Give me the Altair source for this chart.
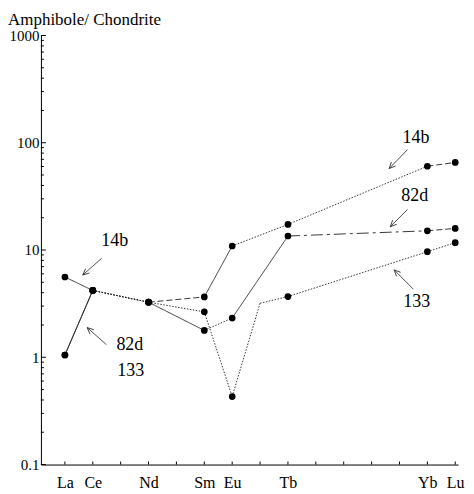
import altair as alt
import pandas as pd

# ---- data ----
element_names = ["La", "Ce", "Nd", "Sm", "Eu", "Gd", "Tb", "Yb", "Lu"]
atomic_numbers = [57, 58, 60, 62, 63, 64, 65, 70, 71]
axis_elements = ["La", "Ce", "Nd", "Sm", "Eu", "Tb", "Yb", "Lu"]
minor_x_ticks = list(range(57, 72))

s14b_el = ["La", "Ce", "Nd", "Sm", "Eu", "Tb", "Yb", "Lu"]
s14b_val = [5.6, 4.2, 3.26, 3.65, 10.9, 17.3, 60.4, 65.5]
s14b_style = ["solid", "dotted", "dashed", "solid", "dotted", "dotted", "dashed"]

s82d_el = ["La", "Ce", "Nd", "Sm", "Eu", "Tb", "Yb", "Lu"]
s82d_val = [1.05, 4.2, 3.26, 1.78, 2.32, 13.5, 15.1, 15.9]
s82d_style = ["solid", "dotted", "solid", "dotted", "solid", "dashdot", "dashed"]

s133_el = ["La", "Ce", "Nd", "Sm", "Eu", "Gd", "Tb", "Yb", "Lu"]
s133_val = [1.05, 4.2, 3.26, 2.65, 0.43, 3.19, 3.68, 9.64, 11.7]
s133_style = ["solid", "dotted", "dotted", "dotted", "dotted", "dotted", "dotted", "dotted"]
s133_marker = [True, True, True, True, True, False, True, True, True]

y_major = [0.1, 1, 10, 100, 1000]
y_minor = [0.2, 0.3, 0.4, 0.5, 0.6, 0.7, 0.8, 0.9,
           2, 3, 4, 5, 6, 7, 8, 9,
           20, 30, 40, 50, 60, 70, 80, 90,
           200, 300, 400, 500, 600, 700, 800, 900]

# annotations (element-number axis, ratio axis)
ann_text = ["14b", "82d", "133", "14b", "82d", "133"]
ann_x = [58.79, 59.33, 59.36, 69.59, 69.55, 69.62]
ann_y = [12.1, 1.29, 0.738, 111.7, 31.8, 3.26]

arrow_tail_x = [58.32, 58.49, 69.29, 69.29, 69.50]
arrow_tail_y = [8.37, 1.31, 86.4, 23.9, 4.31]
arrow_head_x = [57.64, 57.80, 68.63, 68.67, 68.81]
arrow_head_y = [5.85, 1.89, 57.5, 16.5, 6.52]
arrow_angle = [229, 312, 224, 225, 315]

# ---- tables ----
pos = dict(zip(element_names, atomic_numbers))
series_list = [("14b", s14b_el, s14b_val, s14b_style, [True] * len(s14b_el)),
               ("82d", s82d_el, s82d_val, s82d_style, [True] * len(s82d_el)),
               ("133", s133_el, s133_val, s133_style, s133_marker)]
seg_rows, pt_rows = [], []
for name, els, vals, styles, marks in series_list:
    for i in range(len(els) - 1):
        seg_rows.append({"series": name, "x": pos[els[i]], "y": vals[i],
                         "x2": pos[els[i + 1]], "y2": vals[i + 1], "style": styles[i]})
    for e, v, m in zip(els, vals, marks):
        if m:
            pt_rows.append({"series": name, "x": pos[e], "y": v})
segs = pd.DataFrame(seg_rows)
pts = pd.DataFrame(pt_rows)
ann = pd.DataFrame({"text": ann_text, "x": ann_x, "y": ann_y})
arrows = pd.DataFrame({"x": arrow_tail_x, "y": arrow_tail_y,
                       "x2": arrow_head_x, "y2": arrow_head_y, "angle": arrow_angle})
ymaj = pd.DataFrame({"t": y_major})
ymin = pd.DataFrame({"t": y_minor})
xt = pd.DataFrame({"t": minor_x_ticks})

FONT = "Liberation Serif"
W, H = 418, 430

label_expr = " : ".join(
    f"datum.value == {pos[e]} ? '{e}'" for e in axis_elements) + " : ''"

xscale = alt.Scale(domain=[56.14, 71.1], nice=False, zero=False)
yscale = alt.Scale(type="log", domain=[0.1, 1000], nice=False)
xaxis = alt.Axis(values=[pos[e] for e in axis_elements], labelExpr=label_expr,
                 title="", labelPadding=10, labelFontSize=16)
yaxis = alt.Axis(values=y_major, format=".1~f", title="", labelPadding=2,
                 labelFontSize=15)


def X(f):
    return alt.X(f, type="quantitative", scale=xscale, axis=xaxis)


def Y(f):
    return alt.Y(f, type="quantitative", scale=yscale, axis=yaxis)


lines = alt.Chart(segs).mark_rule(color="#222", strokeWidth=0.9).encode(
    x=X("x"), y=Y("y"), x2="x2", y2="y2",
    strokeDash=alt.StrokeDash("style:N", legend=None, scale=alt.Scale(
        domain=["solid", "dotted", "dashed", "dashdot"],
        range=[[1, 0], [1.5, 1.5], [6, 3], [12, 4, 3, 4]])))

points = alt.Chart(pts).mark_circle(color="black", opacity=1, size=45).encode(
    x=X("x"), y=Y("y"))

texts = alt.Chart(ann).mark_text(font=FONT, fontSize=18, color="black",
                                 align="center", baseline="middle").encode(
    x=X("x"), y=Y("y"), text="text:N")

shafts = alt.Chart(arrows).mark_rule(color="#222", strokeWidth=0.8).encode(
    x=X("x"), y=Y("y"), x2="x2", y2="y2")

heads = alt.Chart(arrows).mark_point(
    shape="M -0.55 1.2 L 0 0 L 0.55 1.2", filled=False, color="#222",
    strokeWidth=0.8, size=110, opacity=1).encode(
    x=X("x2"), y=Y("y2"), angle=alt.Angle("angle:Q", scale=None))

ymaj_ticks = alt.Chart(ymaj).mark_rule(color="black", strokeWidth=1).encode(
    y=Y("t"), x=alt.value(0), x2=alt.value(5))
ymin_ticks = alt.Chart(ymin).mark_rule(color="black", strokeWidth=1).encode(
    y=Y("t"), x=alt.value(0), x2=alt.value(3))
x_ticks = alt.Chart(xt).mark_rule(color="black", strokeWidth=1).encode(
    x=X("t"), y=alt.value(H), y2=alt.value(H - 3))

chart = alt.layer(lines, shafts, heads, points, texts, ymaj_ticks, ymin_ticks, x_ticks).properties(
    width=W, height=H,
    autosize=alt.AutoSizeParams(type="none"),
    padding={"left": 33, "top": 27, "right": 8, "bottom": 30},
    title=alt.TitleParams("Amphibole/ Chondrite", anchor="start", frame="group",
                          dx=-33, dy=1, offset=0, font=FONT, fontSize=17,
                          fontWeight="normal", color="black"),
).configure_axis(
    domainColor="black", domainWidth=1, ticks=False, grid=False,
    labelFont=FONT, labelColor="black",
).configure_view(strokeWidth=0)

chart.save("out.html", embed_options={"renderer": "svg", "actions": False})
